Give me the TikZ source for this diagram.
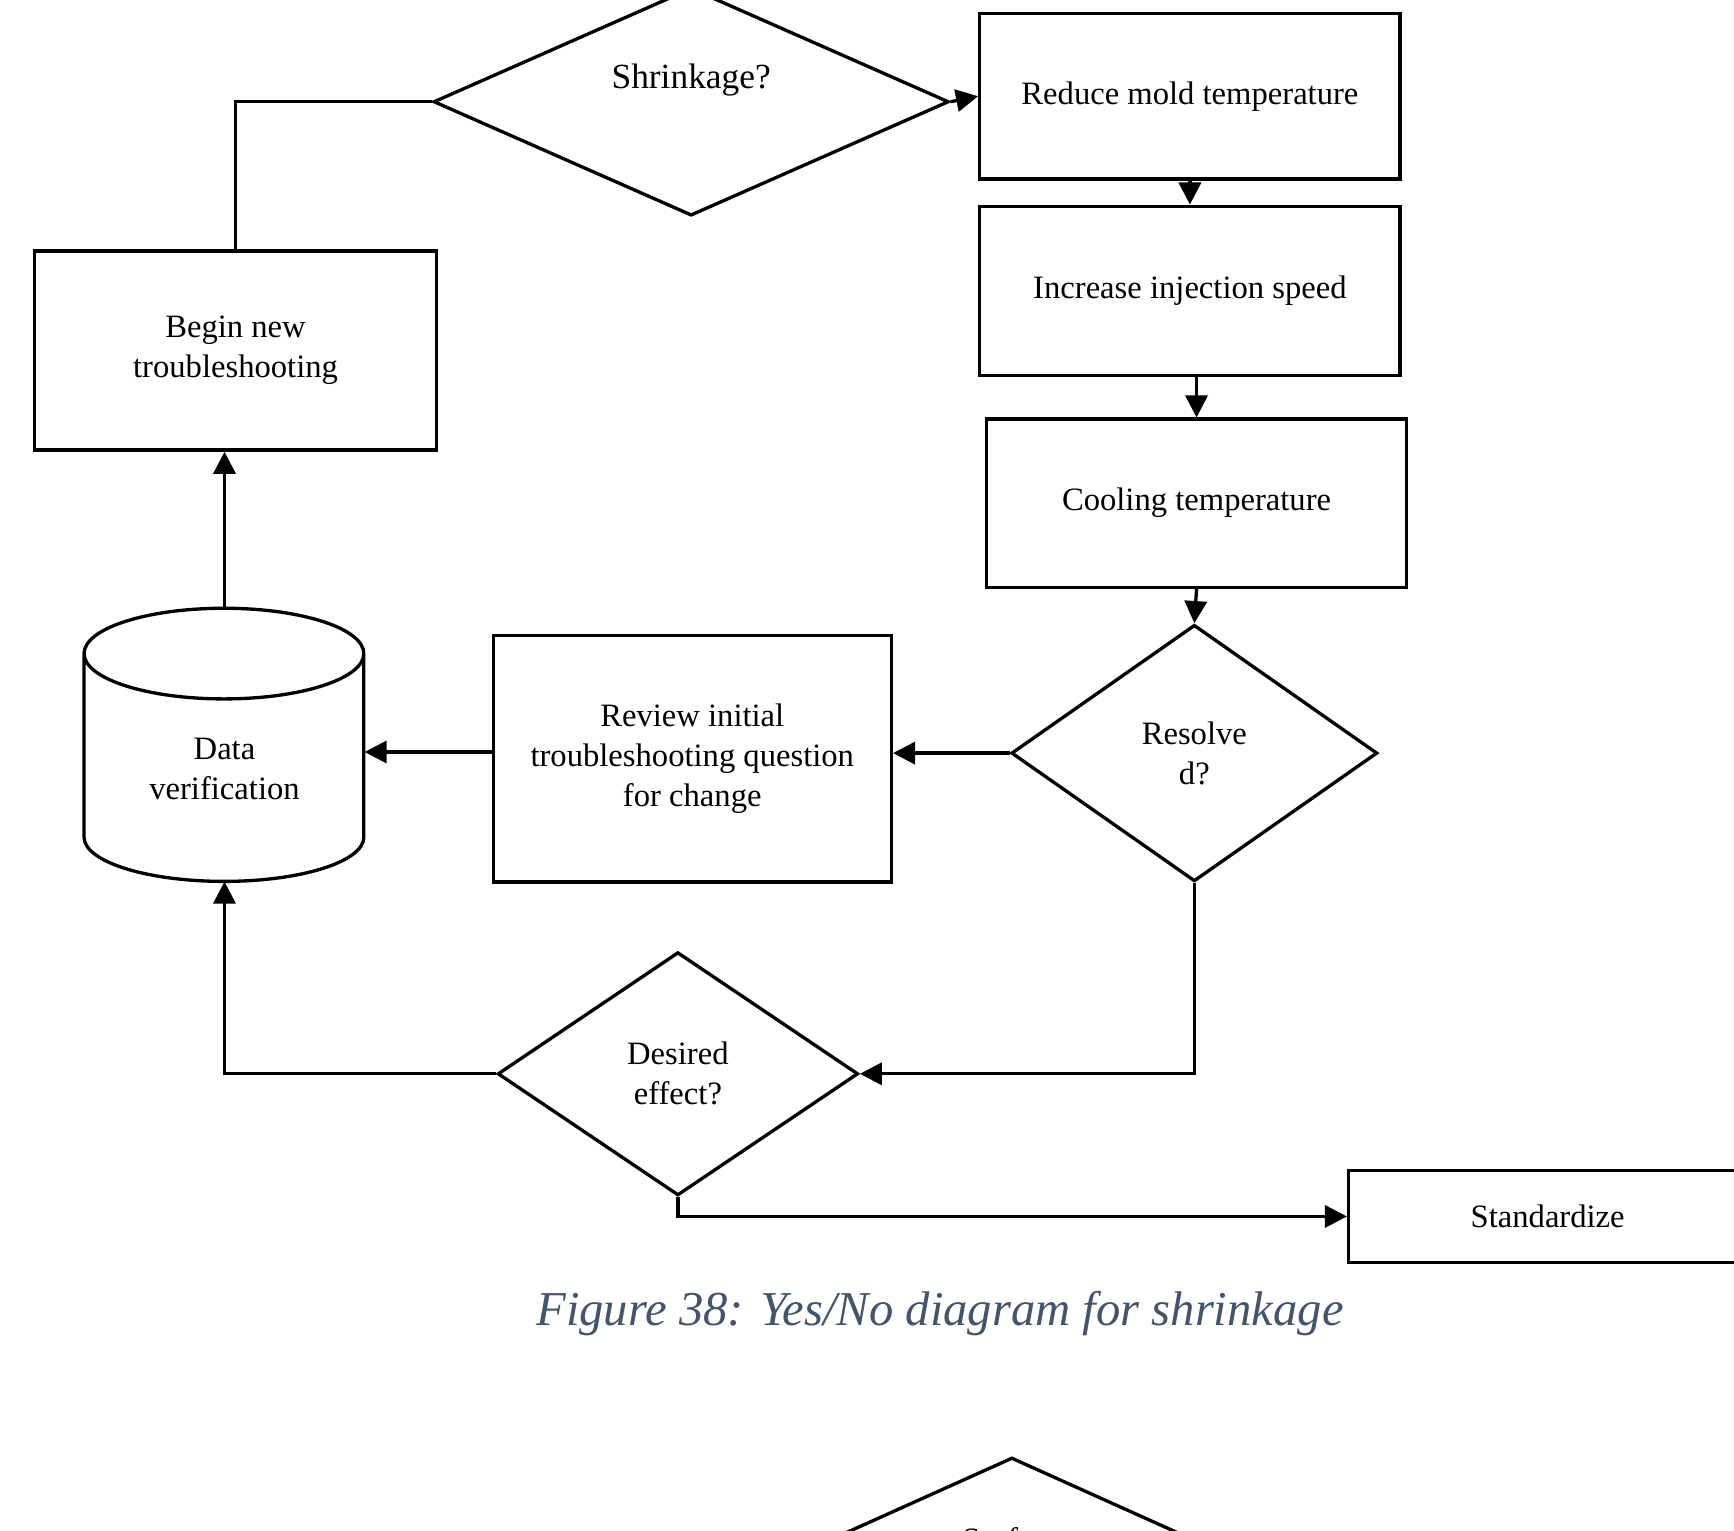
\documentclass[tikz,border=0pt]{standalone}
\usepackage{fontspec}
\setmainfont{Liberation Serif}
\usetikzlibrary{shapes.geometric,arrows.meta}
\definecolor{capcol}{HTML}{44546A}
\begin{document}
\begin{tikzpicture}[x=1pt,y=-1pt,
  box/.style={draw,line width=3pt,rectangle,inner sep=0pt,align=center,font=\fontsize{29.5}{36}\selectfont},
  dia/.style={draw,line width=3pt,diamond,inner sep=0pt},
  txt/.style={align=center,font=\fontsize{29.5}{36}\selectfont},
  ln/.style={line width=3pt},
  arr/.style={line width=3pt,-{Triangle[length=20pt,width=20pt]}}]
\useasboundingbox (0,0) rectangle (1568,1384);
\node[box,minimum width=380pt,minimum height=150pt] (reduce) at (1076,87) {Reduce mold temperature};
\node[box,minimum width=380pt,minimum height=153pt] (incr) at (1076,263) {Increase injection speed};
\node[box,minimum width=380pt,minimum height=152pt] (cool) at (1082,455) {Cooling temperature};
\node[box,minimum width=363pt,minimum height=180pt] (begin) at (213,317) {Begin new\\troubleshooting};
\node[box,minimum width=360pt,minimum height=223pt] (review) at (626,686) {Review initial\\troubleshooting question\\for change};
\node[box,minimum width=360pt,minimum height=83pt,anchor=west] (std) at (1218,1100) {Standardize};
\node[dia,minimum width=466pt,minimum height=206pt] (shrink) at (625,92) {};
\node[txt,font=\fontsize{32}{36}\selectfont] (shrinkt) at (625,72) {Shrinkage?};
\node[dia,minimum width=331pt,minimum height=232pt] (res) at (1080,681) {};
\node[txt] (rest) at (1080,681) {Resolve\\d?};
\node[dia,minimum width=326pt,minimum height=220pt] (des) at (613,971) {};
\node[txt] (dest) at (613,971) {Desired\\effect?};
% cylinder
\node[minimum width=253pt,minimum height=247pt,inner sep=0pt] (data) at (203,673.5) {};
\draw[ln] (76,591) -- (76,757) arc[start angle=180,end angle=0,x radius=126.5,y radius=40]
  -- (329,591) arc[start angle=0,end angle=360,x radius=126.5,y radius=41];
\node[txt] (datat) at (203,695) {Data\\verification};
% connectors
\draw[ln] (begin.north) |- (shrink.west);
\draw[arr] (shrink.east) -- (reduce.west);
\draw[arr] (reduce.south) -- (incr.north);
\draw[arr] (incr.south -| cool.north) -- (cool.north);
\draw[arr] (cool.south) -- (res.north);
\draw[arr] (res.west) -- (review.east |- res.west);
\draw[arr] (review.west |- 0,680) -- (data.east |- 0,680);
\draw[arr] (data.north) -- (begin.south -| data.north);
\draw[arr] (res.south) |- (des.east);
\draw[arr] (des.west) -| (data.south);
\draw[arr] (des.south) |- (std.west);
\node[font=\fontsize{44}{50}\selectfont\itshape,text=capcol] (cap) at (850,1188) {Figure 38: Yes/No diagram for shrinkage};
\begin{scope}
\clip (0,0) rectangle (1568,1384);
\node[dia,minimum width=310pt,minimum height=140pt] (surf) at (915,1388) {};
\node[txt] (surft) at (915,1392) {Surface};
\end{scope}
\end{tikzpicture}
\end{document}
